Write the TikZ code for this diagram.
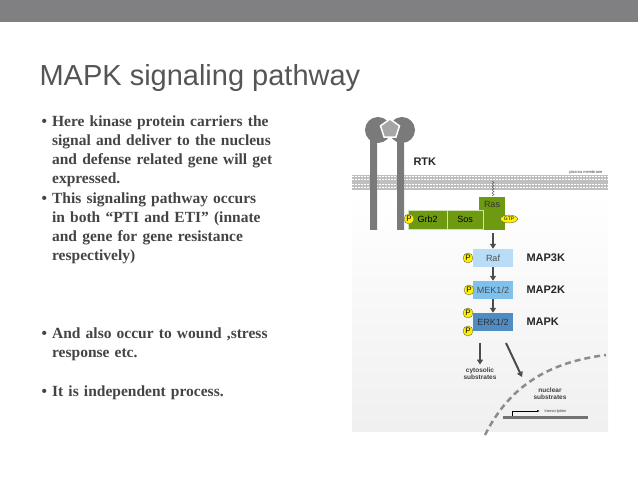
\documentclass[tikz,border=0pt]{standalone}
\usepackage{fontspec}
\setmainfont{Liberation Serif}
\newfontfamily\sans{Liberation Sans}
\usetikzlibrary{shapes.geometric,arrows.meta}
\definecolor{bargray}{HTML}{808082}
\definecolor{titlegray}{HTML}{555555}
\definecolor{rtkgray}{HTML}{7A7A7A}
\definecolor{kgreen}{HTML}{6E9A12}
\definecolor{rafblue}{HTML}{B9DDF6}
\definecolor{mekblue}{HTML}{7FC1EC}
\definecolor{erkblue}{HTML}{4F8CC4}
\begin{document}
\begin{tikzpicture}[x=1pt,y=-1pt]
  \tikzset{kinase/.style={draw=none,fill=#1,minimum width=40pt,minimum height=18pt,inner sep=0pt,font=\sans\fontsize{9}{9}\selectfont},
    phos/.style={circle,fill=yellow,draw=black!60,inner sep=0pt,minimum size=10pt,font=\sans\fontsize{8}{8}\selectfont},
    family/.style={anchor=west,font=\sans\bfseries\fontsize{11}{11}\selectfont,text=black!85},
    small/.style={font=\sans\bfseries\fontsize{6.5}{7}\selectfont,text=black!75,align=center},
    signal arrow/.style={-{Triangle[length=5pt,width=6pt]},line width=2pt,draw=black!70},
    bullet/.style={anchor=north west,font=\bfseries\fontsize{15.5}{19}\selectfont,text=titlegray!80!black,align=left,text width=300pt}}
  \useasboundingbox (0,0) rectangle (638,478);
  \fill[bargray] (0,0) rectangle (638,22);
  \node[anchor=base west,font=\sans\fontsize{29}{29}\selectfont,text=titlegray] (title) at (36,86) {MAPK signaling pathway};
  % bullets
  \node[bullet] (b1) at (38,112) {\textbullet\ Here kinase protein carriers the\\ \phantom{\textbullet\ }signal and deliver to the nucleus\\ \phantom{\textbullet\ }and defense related gene will get\\ \phantom{\textbullet\ }expressed.};
  \node[bullet] (b2) at (38,189) {\textbullet\ This signaling pathway occurs\\ \phantom{\textbullet\ }in both ``PTI and ETI'' (innate\\ \phantom{\textbullet\ }and gene for gene resistance\\ \phantom{\textbullet\ }respectively)};
  \node[bullet] (b3) at (38,324) {\textbullet\ And also occur to wound ,stress\\ \phantom{\textbullet\ }response etc.};
  \node[bullet] (b4) at (38,382) {\textbullet\ It is independent process.};
  % cell background
  \shade[top color=white,bottom color=black!6] (352,190) rectangle (608,432);
  % membrane
  \fill[black!25] (352,175) rectangle (608,190);
  \foreach \y in {177,180,185,188}
    \draw[white,dash pattern=on 1.5pt off 1.5pt,line width=1pt] (352,\y) -- (608,\y);
  \node[small,anchor=east,font=\sans\fontsize{4}{4}\selectfont] (pm) at (606,172) {plasma membrane};
  % receptor
  \fill[rtkgray] (378,130) circle (13pt) (402,130) circle (13pt);
  \fill[rtkgray] (370,133) rectangle (377,230) (397,133) rectangle (404,230);
  \node[regular polygon,regular polygon sides=5,fill=black!35,draw=white,line width=1.5pt,minimum size=20pt,inner sep=0pt] (ligand) at (390,129) {};
  \node[anchor=west,font=\sans\bfseries\fontsize{11}{11}\selectfont,text=black!85] (rtk) at (410,162) {RTK};
  % adaptor complex
  \draw[black!70] (492,181) -- ++(2,1.5) -- ++(-2,1.5) -- ++(2,1.5) -- ++(-2,1.5) -- ++(2,1.5) -- ++(-2,1.5) -- ++(2,1.5) -- ++(-2,1.5) -- ++(2,1.5) -- ++(-2,1.5);
  \node[kinase=kgreen,minimum width=26pt,minimum height=33pt,anchor=north west] (ras) at (479,197) {};
  \node[font=\sans\fontsize{9}{9}\selectfont,text=black!80] (raslabel) at (492,204) {Ras};
  \node[kinase=kgreen,minimum width=39pt,minimum height=19pt,anchor=north west,draw=white!70!kgreen] (grb) at (408,210) {Grb2};
  \node[kinase=kgreen,minimum width=36pt,minimum height=19pt,anchor=north west,draw=white!70!kgreen] (sos) at (447,210) {Sos};
  \node[ellipse,fill=yellow,draw=black!60,inner sep=1pt,font=\sans\fontsize{5}{5}\selectfont] (gtp) at (509,219) {GTP};
  \node[phos] (p0) at (409,219) {P};
  % cascade
  \node[kinase=rafblue,text=black!70] (raf) at (493,258) {Raf};
  \node[kinase=mekblue,text=black!70] (mek) at (493,290) {MEK1/2};
  \node[kinase=erkblue,text=black!80] (erk) at (493,322) {ERK1/2};
  \node[phos] (p1) at (468,258) {P};
  \node[phos] (p2) at (469,290) {P};
  \node[phos] (p3) at (468,313) {P};
  \node[phos] (p4) at (468,331) {P};
  \node[family] (k3) at (523,258) {MAP3K};
  \node[family] (k2) at (523,290) {MAP2K};
  \node[family] (k1) at (523,322) {MAPK};
  \coordinate (r0) at (493,233);
  \draw[signal arrow] (r0) -- (raf.north);
  \draw[signal arrow] (raf) -- (mek);
  \draw[signal arrow] (mek) -- (erk);
  % substrates
  \node[small] (cyto) at (480,374) {cytosolic\\substrates};
  \node[small] (nuc) at (550,394) {nuclear\\substrates};
  \coordinate (c0) at (480,343);
  \coordinate (n0) at (506,343);
  \coordinate (n1) at (522,377);
  \draw[signal arrow] (c0) -- (cyto.north);
  \draw[signal arrow] (n0) -- (n1);
  % nucleus
  \draw[black!45,line width=2.5pt,dash pattern=on 6pt off 4pt] (485,435) .. controls (510,385) and (550,362) .. (606,355);
  \fill[black!55] (503,416) rectangle (588,419);
  \draw[-{Latex[length=3pt]},line width=0.8pt] (512,416) -- (512,411) -- (540,411);
  \node[anchor=west,small,font=\sans\fontsize{4}{4}\selectfont] (tx) at (541,411) {transcription};
\end{tikzpicture}
\end{document}
